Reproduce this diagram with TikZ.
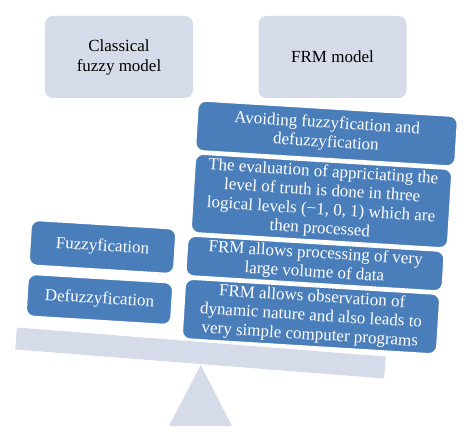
\documentclass[tikz,border=0pt]{standalone}
\usepackage{fontspec}
\setmainfont{Liberation Serif}

\definecolor{modelgray}{HTML}{D5DBE8}
\definecolor{itemblue}{HTML}{4A7EBB}

\tikzset{
    model/.style={fill=modelgray, rounded corners=8pt, minimum width=148pt,
        minimum height=82pt, align=center, font=\fontsize{17}{20}\selectfont},
    item/.style={fill=itemblue, draw=white, line width=1.5pt, rounded corners=8pt,
        text=white, align=center, rotate=-3.5, inner sep=1pt,
        font=\fontsize{17}{19}\selectfont},
    beam/.style={fill=modelgray, minimum width=370pt, minimum height=22pt,
        inner sep=0pt, rotate=-4.5}
}

\begin{document}
\begin{tikzpicture}[x=1pt, y=1pt]
    \useasboundingbox (0,0) rectangle (474,442);

    %% models
    \node[model] (classical) at (119,385)   {Classical\\fuzzy model};
    \node[model] (frm)       at (332.5,385) {FRM model};

    %% scale
    \fill[modelgray] (200.7,77) -- (169,16) -- (232,16) -- cycle;
    \node[beam] (beam) at (200.5,89) {};

    %% right side
    \node[item, minimum width=260pt, minimum height=50pt] (avoid) at (326.5,308.5)
        {Avoiding fuzzyfication and\\defuzzyfication};
    \node[item, minimum width=257pt, minimum height=79pt] (evaluation) at (321.5,241)
        {The evaluation of appriciating the\\level of truth is done in three\\logical levels (−1, 0, 1) which are\\then processed};
    \node[item, minimum width=257pt, minimum height=40pt] (volume) at (315,178.5)
        {FRM allows processing of very\\large volume of data};
    \node[item, minimum width=255pt, minimum height=60pt] (observe) at (311,125.5)
        {FRM allows observation of\\dynamic nature and also leads to\\very simple computer programs};

    %% left side
    \node[item, minimum width=145pt, minimum height=45pt] (fuzzy)   at (102.5,195) {Fuzzyfication};
    \node[item, minimum width=145pt, minimum height=42pt] (defuzzy) at (99.5,142.5) {Defuzzyfication};

\end{tikzpicture}
\end{document}
